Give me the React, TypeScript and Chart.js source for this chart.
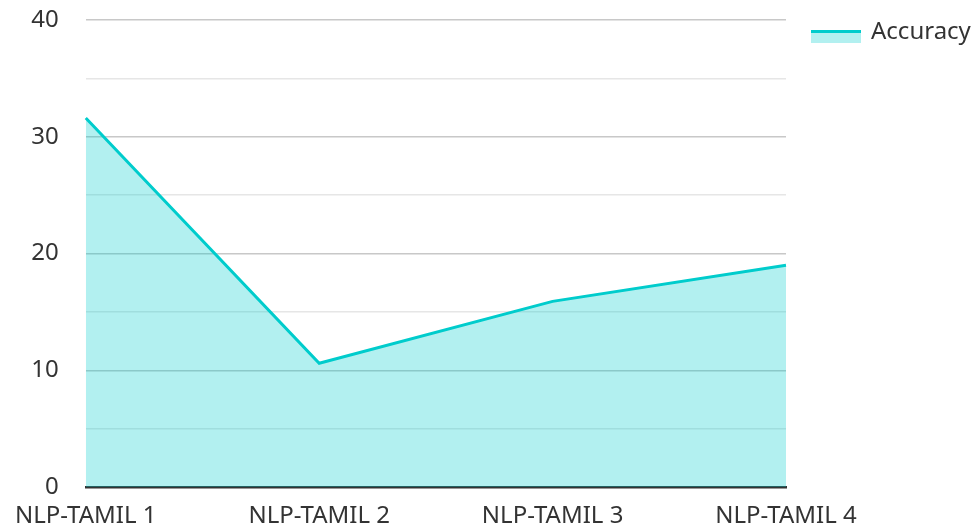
import React, { useEffect, useRef } from "react";
import { Chart, registerables } from "chart.js";

Chart.register(...registerables);

const categories = ["NLP-TAMIL 1", "NLP-TAMIL 2", "NLP-TAMIL 3", "NLP-TAMIL 4"];
const accuracy = [31.6, 10.6, 15.9, 19.0];
const seriesLabel = "Accuracy";
const yMin = 0;
const yMax = 40;
const yStep = 5;
const yLabelStep = 10;

const LINE = "rgb(0, 204, 204)";
const FILL = "rgba(0, 204, 204, 0.3)";
const FONT = "'Noto Sans', 'Open Sans', sans-serif";

const legendPlugin = {
  id: "customLegend",
  afterDraw(chart: any) {
    const { ctx, chartArea } = chart;
    const ds = chart.data.datasets[0];
    const bx = chartArea.right + 25;
    const by = chartArea.top + 10;
    ctx.save();
    ctx.fillStyle = FILL;
    ctx.fillRect(bx, by + 3, 50, 10);
    ctx.fillStyle = LINE;
    ctx.fillRect(bx, by, 50, 3);
    ctx.fillStyle = "#333";
    ctx.font = `24px ${FONT}`;
    ctx.textAlign = "left";
    ctx.textBaseline = "alphabetic";
    ctx.fillText(ds.label, bx + 60, by + 9);
    ctx.restore();
  },
};

export default function App() {
  const ref = useRef<HTMLCanvasElement>(null);
  useEffect(() => {
    if (!ref.current) return;
    const chart = new Chart(ref.current, {
      type: "line",
      data: {
        labels: categories,
        datasets: [
          {
            label: seriesLabel,
            data: accuracy,
            borderColor: LINE,
            backgroundColor: FILL,
            borderWidth: 3,
            fill: "origin",
            pointRadius: 0,
            pointHoverRadius: 0,
            tension: 0,
          },
        ],
      },
      options: {
        responsive: false,
        animation: false,
        devicePixelRatio: 1,
        layout: { padding: { top: 20, right: 190, left: 0, bottom: 0 } },
        plugins: {
          legend: { display: false },
          tooltip: { enabled: false },
        },
        scales: {
          x: {
            afterFit(scale: any) {
              scale.height = 39;
            },
            grid: { display: false, drawTicks: false },
            border: { display: true, color: "#333", width: 2.5 },
            ticks: {
              color: "#333",
              font: { family: FONT, size: 24 },
              padding: 15,
              maxRotation: 0,
              autoSkip: false,
            },
          },
          y: {
            min: yMin,
            max: yMax,
            afterFit(scale: any) {
              scale.width = 85;
              scale.paddingTop = 0;
              scale.paddingBottom = 0;
            },
            border: { display: false },
            grid: {
              drawTicks: false,
              lineWidth: 1.5,
              color: (c: any) =>
                c.tick && c.tick.value % yLabelStep === 0 ? "#c8c8c8" : "#e6e6e6",
            },
            ticks: {
              stepSize: yStep,
              padding: 27,
              color: "#333",
              font: { family: FONT, size: 24 },
              callback: (v: any) => (Number(v) % yLabelStep === 0 ? String(v) : ""),
            },
          },
        },
      },
      plugins: [legendPlugin],
    });
    return () => chart.destroy();
  }, []);
  return (
    <div style={{ position: "fixed", left: 0, top: 0, width: 976, height: 526, background: "#fff" }}>
      <canvas ref={ref} width={976} height={526} />
    </div>
  );
}
